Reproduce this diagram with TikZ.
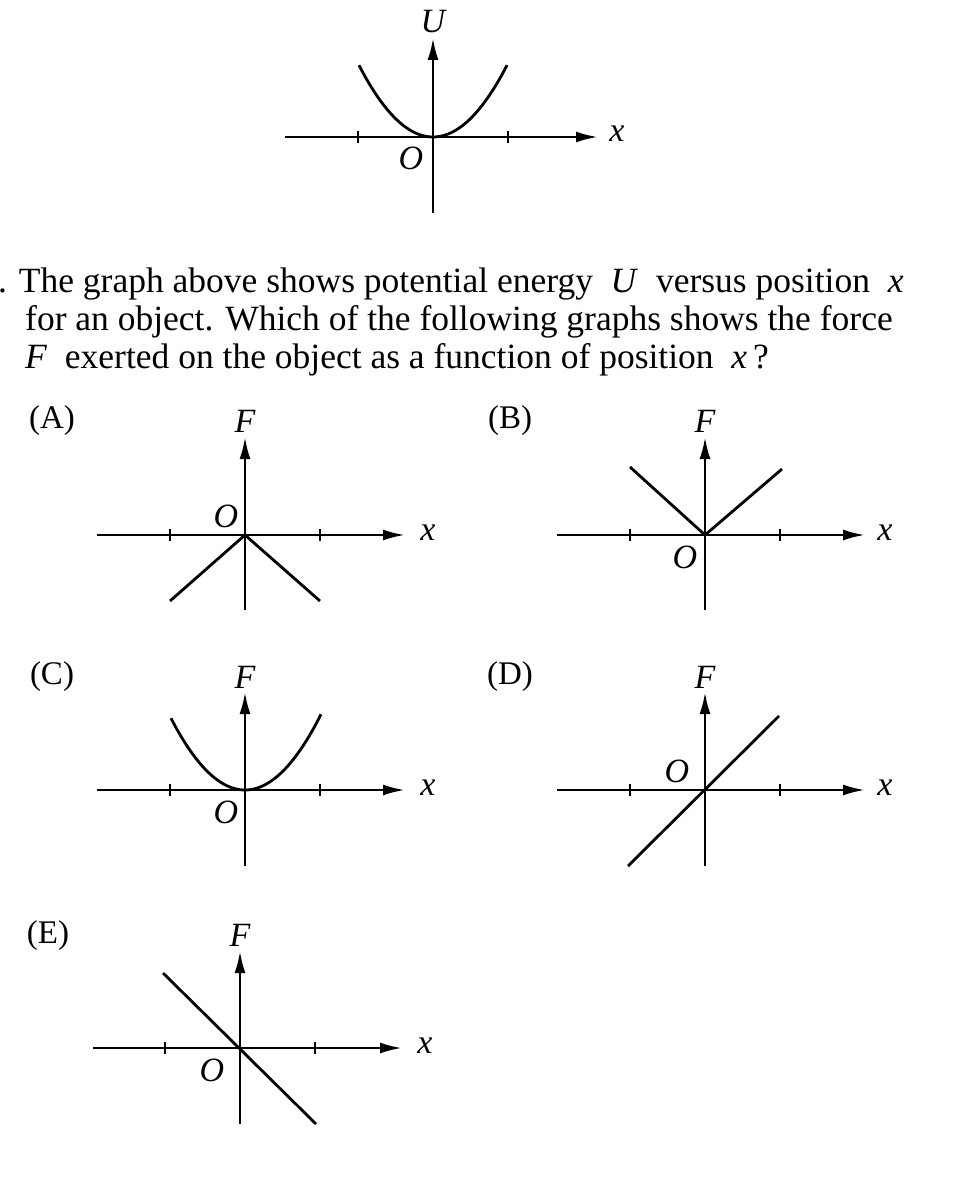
\documentclass[tikz,border=0pt]{standalone}
\usepackage{fontspec}
\setmainfont{Liberation Serif}
\usetikzlibrary{arrows.meta}
\tikzset{
  ax/.style={line width=2.6pt,-{Latex[length=22pt,width=11pt]}},
  crv/.style={line width=2.8pt},
  tk/.style={line width=1.2pt},
  lab/.style={font=\fontsize{34}{40}\selectfont\itshape,inner sep=0pt},
  plab/.style={font=\fontsize{33}{40}\selectfont,inner sep=0pt},
  txt/.style={font=\fontsize{35.5}{42}\selectfont,inner sep=0pt,anchor=base west}
}
\newcommand\axes[6]{% ox oy xl xr ytop ybot
  \draw[ax] (#3,#2) -- (#4,#2);
  \draw[ax] (#1,#6) -- (#1,#5);
}
\begin{document}
\begin{tikzpicture}[x=1pt,y=-1pt]
\useasboundingbox (0,0) rectangle (968,1185);
% top graph
\axes{433}{137}{285}{598}{38}{213}
\draw[tk] (358,131) -- (358,143) (508,131) -- (508,143);
\draw[crv] plot[domain=-74:74,samples=60] ({433+\x},{137-0.0131*\x*\x});
\node[lab] (U) at (433,22) {U};
\node[lab] (x0) at (617,134) {x};
\node[lab] (O0) at (411,158) {O};
% text
\node[txt] (t1) at (-2,292) {. The graph above shows potential energy~ \textit{U}~ versus position~ \textit{x}};
\node[txt] (t2) at (25,330) {for an object. Which of the following graphs shows the force};
\node[txt] (t3) at (25,368) {\textit{F}~ exerted on the object as a function of position~ \textit{x}\,?};
% A
\axes{245}{535}{97}{405}{437}{610}
\draw[tk] (170,529) -- (170,541) (320,529) -- (320,541);
\draw[crv] (170,601) -- (245,535) -- (320,601);
\node[lab] (FA) at (245,421) {F};
\node[lab] (xA) at (428,533) {x};
\node[lab] (OA) at (226,516) {O};
\node[plab] (A) at (52,421) {(A)};
% B
\axes{705}{535}{557}{865}{437}{610}
\draw[tk] (630,529) -- (630,541) (780,529) -- (780,541);
\draw[crv] (630,467) -- (705,535) -- (782,469);
\node[lab] (FB) at (705,421) {F};
\node[lab] (xB) at (885,533) {x};
\node[lab] (OB) at (685,557) {O};
\node[plab] (B) at (510,421) {(B)};
% C
\axes{245}{790}{97}{405}{692}{866}
\draw[tk] (170,784) -- (170,796) (320,784) -- (320,796);
\draw[crv] plot[domain=-74:76,samples=60] ({245+\x},{790-0.0131*\x*\x});
\node[lab] (FC) at (245,677) {F};
\node[lab] (xC) at (428,788) {x};
\node[lab] (OC) at (226,812) {O};
\node[plab] (C) at (52,677) {(C)};
% D
\axes{705}{790}{557}{865}{692}{866}
\draw[tk] (630,784) -- (630,796) (780,784) -- (780,796);
\draw[crv] (628,866) -- (779,716);
\node[lab] (FD) at (705,677) {F};
\node[lab] (xD) at (885,788) {x};
\node[lab] (OD) at (677,771) {O};
\node[plab] (D) at (510,677) {(D)};
% E
\axes{240}{1048}{93}{402}{951}{1124}
\draw[tk] (165,1042) -- (165,1054) (315,1042) -- (315,1054);
\draw[crv] (163,973) -- (316,1124);
\node[lab] (FE) at (240,935) {F};
\node[lab] (xE) at (425,1046) {x};
\node[lab] (OE) at (212,1070) {O};
\node[plab] (E) at (48,936) {(E)};
\end{tikzpicture}
\end{document}
